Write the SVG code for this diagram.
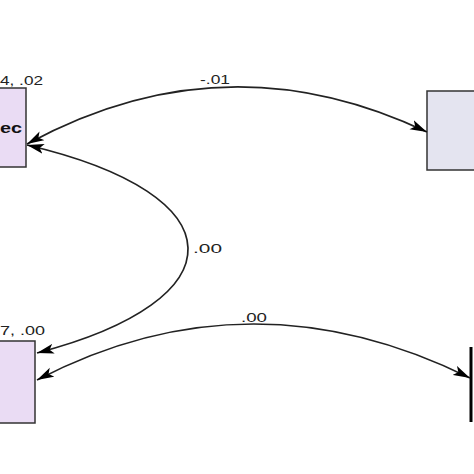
<svg xmlns="http://www.w3.org/2000/svg" width="474" height="474" viewBox="0 0 474 474">
<style>
.box{stroke:#333;stroke-width:1.5}
.pur{fill:#eadcf4}
.gry{fill:#e4e4f0}
.lbl{font-family:"Liberation Sans",Arial,sans-serif;font-size:12px;fill:#222}
.nm{font-family:"Liberation Sans",Arial,sans-serif;font-size:15px;font-weight:bold;fill:#111}
.cv{fill:none;stroke:#222;stroke-width:1.7}
</style>
<defs>
<marker id="ah" viewBox="0 0 17 11" markerUnits="userSpaceOnUse" markerWidth="17" markerHeight="11" refX="17" refY="5.5" orient="auto-start-reverse">
<path d="M0,0.5 L17,5.5 L0,10.5 L4,5.5 z" fill="#000"/>
</marker>
</defs>
<rect width="474" height="474" fill="#fff"/>
<g id="node-tl">
<rect class="box pur" x="-10" y="88" width="36" height="79"/>
<text class="nm" x="0" y="133" textLength="22" lengthAdjust="spacingAndGlyphs">ec</text>
<text class="lbl" x="0" y="85" textLength="43" lengthAdjust="spacingAndGlyphs">4, .02</text>
</g>
<g id="node-tr">
<rect class="box gry" x="427" y="91" width="60" height="79"/>
</g>
<g id="node-bl">
<rect class="box pur" x="-10" y="341" width="45" height="82"/>
<text class="lbl" x="0" y="335" textLength="45" lengthAdjust="spacingAndGlyphs">7, .00</text>
</g>
<g id="node-br">
<line x1="471" y1="347" x2="471" y2="422" stroke="#000" stroke-width="3"/>
</g>
<g id="connectors">
<path class="cv" d="M27,144 Q225,36 427,132" marker-start="url(#ah)" marker-end="url(#ah)"/>
<path class="cv" d="M27,145 C240,195 240,300 37,353" stroke-width="2.2" marker-start="url(#ah)" marker-end="url(#ah)"/>
<path class="cv" d="M37,380 Q250,269 470,378" marker-start="url(#ah)" marker-end="url(#ah)"/>
<text class="lbl" x="200" y="84" textLength="30" lengthAdjust="spacingAndGlyphs">-.01</text>
<text class="lbl" x="193" y="253" textLength="29" lengthAdjust="spacingAndGlyphs">.00</text>
<text class="lbl" x="241" y="322" textLength="26" lengthAdjust="spacingAndGlyphs">.00</text>
</g>
</svg>
